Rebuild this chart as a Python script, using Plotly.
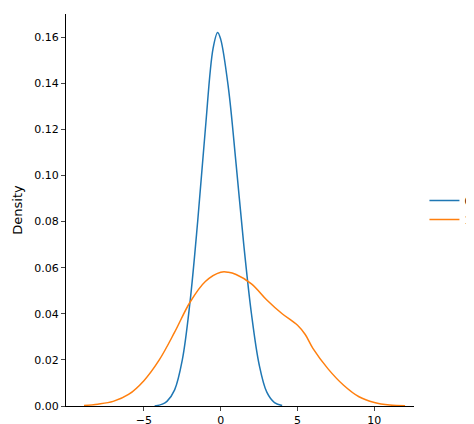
import plotly.graph_objects as go

x0 = [-4.3, -3.8, -3.5, -3.0, -2.5, -2.0, -1.5, -1.0, -0.5, -0.2, 0.0, 0.5, 1.0, 1.5, 2.0, 2.5, 3.0, 3.5, 4.0]
y0 = [0.0, 0.0008, 0.002, 0.007, 0.02, 0.045, 0.08, 0.12, 0.155, 0.162, 0.159, 0.138, 0.105, 0.07, 0.04, 0.018, 0.006, 0.0015, 0.0002]
x1 = [-8.9, -8, -7, -6, -5, -4, -3, -2, -1, 0, 0.5, 1, 2, 3, 4, 5, 5.5, 6, 7, 8, 9, 10, 11, 12]
y1 = [0.0002, 0.0008, 0.002, 0.005, 0.011, 0.02, 0.032, 0.045, 0.054, 0.058, 0.058, 0.057, 0.053, 0.046, 0.04, 0.035, 0.031, 0.025, 0.016, 0.009, 0.004, 0.0015, 0.0004, 0.0001]
names = ["0", "1"]

fig = go.Figure()
fig.add_trace(go.Scatter(x=x0, y=y0, mode="lines", name=names[0], line=dict(color="#1f77b4", width=1.5, shape="spline")))
fig.add_trace(go.Scatter(x=x1, y=y1, mode="lines", name=names[1], line=dict(color="#ff7f0e", width=1.5, shape="spline")))
fig.update_layout(
    width=474, height=424, margin=dict(l=58, r=68, t=6, b=26),
    plot_bgcolor="white", paper_bgcolor="white",
    font=dict(family="DejaVu Sans", size=11, color="black"),
    legend=dict(x=1.03, y=0.5, yanchor="middle", itemwidth=30, font=dict(size=11)),
    xaxis=dict(range=[-10.07, 12.58], tickvals=[-5, 0, 5, 10], ticktext=["−5", "0", "5", "10"],
               showgrid=False, zeroline=False, showline=True, linecolor="black", ticks="outside", ticklen=4),
    yaxis=dict(range=[0, 0.17], dtick=0.02, tickformat=".2f", title=dict(text="Density", standoff=8),
               showgrid=False, zeroline=False, showline=True, linecolor="black", ticks="outside", ticklen=4),
)
fig.write_html("out.html")
